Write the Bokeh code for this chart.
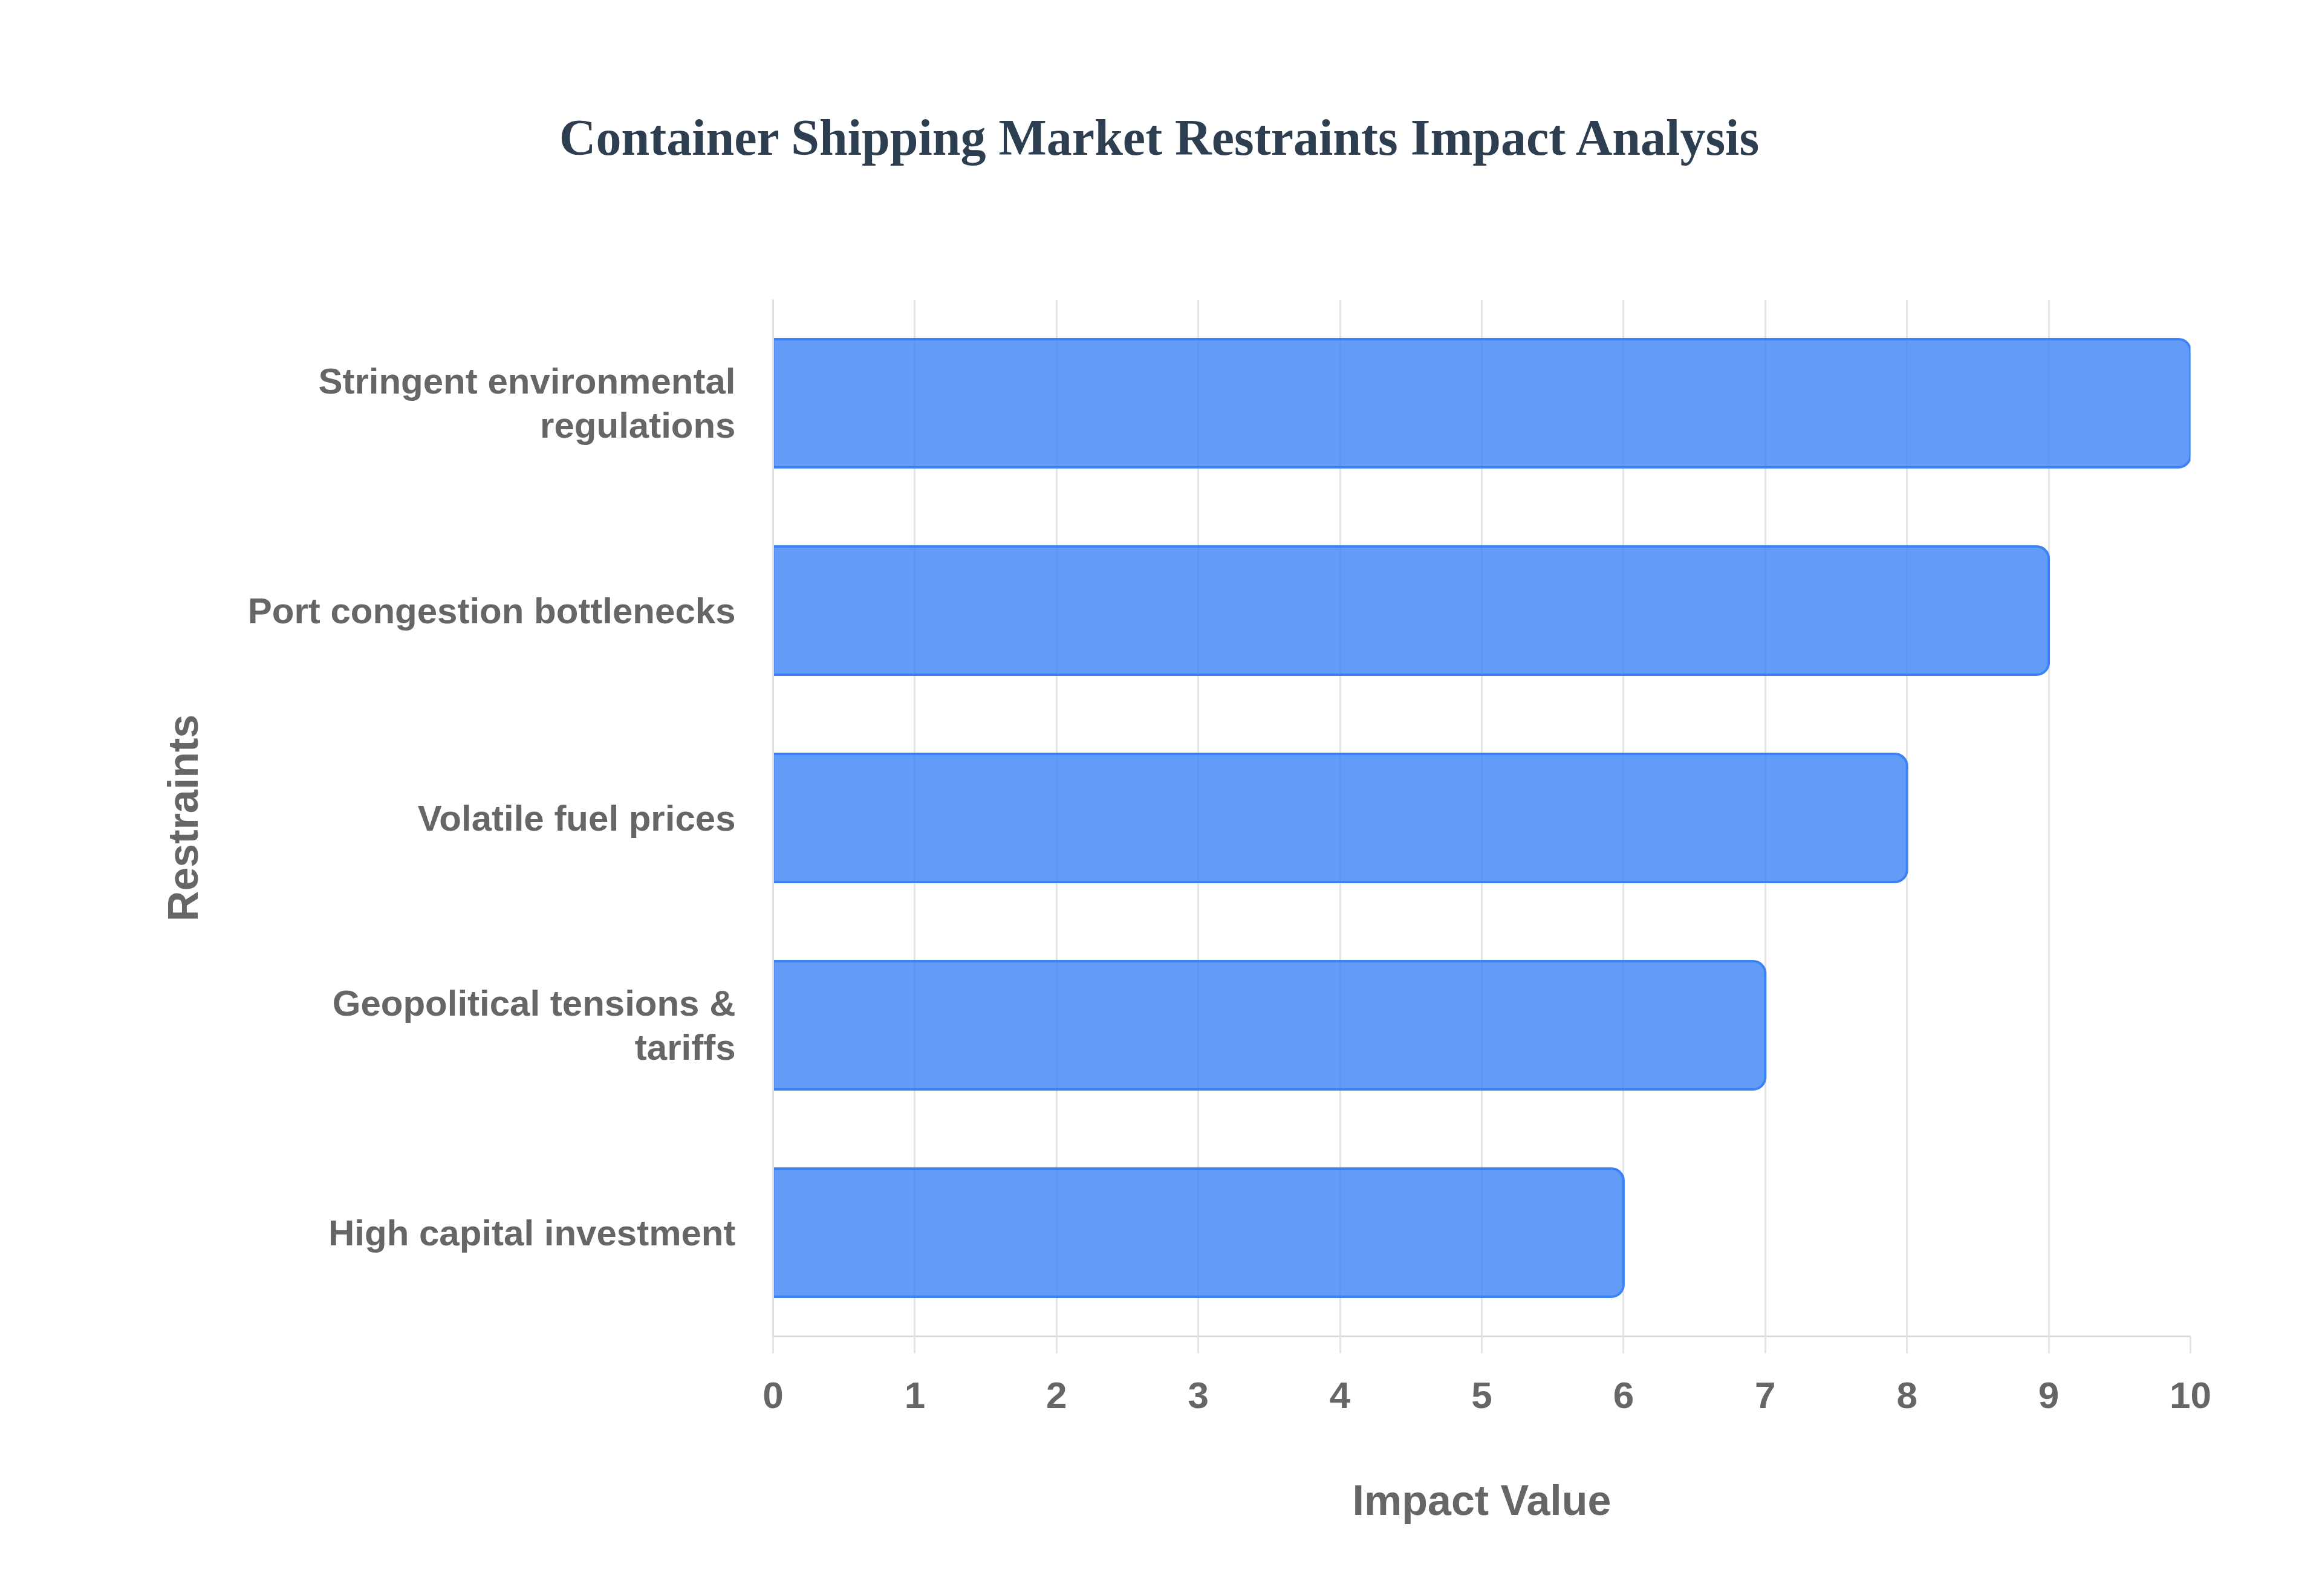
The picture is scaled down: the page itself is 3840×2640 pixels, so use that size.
import numpy as np
from bokeh.layouts import column
from bokeh.models import Range1d, FactorRange, FixedTicker, Div
from bokeh.plotting import figure
from bokeh.embed import file_html
from bokeh.resources import INLINE

# Restraints and their impact values (top to bottom as shown)
restraints = [
    "Stringent environmental\nregulations",
    "Port congestion bottlenecks",
    "Volatile fuel prices",
    "Geopolitical tensions &\ntariffs",
    "High capital investment",
]
impact = [10, 9, 8, 7, 6]
x_ticks = [0, 1, 2, 3, 4, 5, 6, 7, 8, 9, 10]
chart_title = "Container Shipping Market Restraints Impact Analysis"

label_grey = "#666666"
bar_blue = "#3b82f6"
grid_grey = "#e5e5e5"

W, H = 3824, 2624
title_h = 446

# Title centred on the whole page
header = Div(text=chart_title, width=W, height=title_h,
             styles={"text-align": "center", "font-family": "'Liberation Serif', serif",
                     "font-size": "84px", "font-weight": "bold", "color": "#2c3e50",
                     "line-height": f"{title_h}px", "white-space": "nowrap"})

p = figure(width=W, height=H - title_h,
           y_range=FactorRange(factors=list(reversed(restraints)), range_padding=0),
           x_range=Range1d(0, 10),
           output_backend="svg", toolbar_location=None,
           min_border_left=1278, min_border_right=202,
           min_border_top=39, min_border_bottom=424)

p.hbar(y=restraints, left=0, right=impact, height=0.618,
       fill_color=bar_blue, fill_alpha=0.8,
       line_color=bar_blue, line_width=4,
       border_radius=(0, 20, 20, 0))

p.outline_line_color = None
p.background_fill_color = "white"

# Grid: vertical lines only
p.ygrid.grid_line_color = None
p.xgrid.grid_line_color = grid_grey
p.xgrid.grid_line_width = 3

# X axis
xa = p.xaxis[0]
xa.ticker = FixedTicker(ticks=x_ticks)
xa.minor_tick_line_color = None
xa.major_tick_in = 0
xa.major_tick_out = 28
xa.major_tick_line_color = grid_grey
xa.major_tick_line_width = 3
xa.axis_line_color = "#dddddd"
xa.axis_line_width = 3
xa.major_label_text_font = "Liberation Sans"
xa.major_label_text_font_size = "62px"
xa.major_label_text_font_style = "bold"
xa.major_label_text_color = label_grey
xa.major_label_standoff = 48
xa.axis_label = "Impact Value"
xa.axis_label_text_font = "Liberation Sans"
xa.axis_label_text_font_size = "70px"
xa.axis_label_text_font_style = "bold"
xa.axis_label_text_color = label_grey
xa.axis_label_standoff = 111

# Y axis
ya = p.yaxis[0]
ya.major_tick_in = 0
ya.major_tick_out = 0
ya.axis_line_color = "#dddddd"
ya.axis_line_width = 3
ya.major_label_text_font = "Liberation Sans"
ya.major_label_text_font_size = "60px"
ya.major_label_text_font_style = "bold"
ya.major_label_text_color = label_grey
ya.major_label_text_line_height = 1.1
ya.major_label_standoff = 62
ya.axis_label = "Restraints"
ya.axis_label_text_font = "Liberation Sans"
ya.axis_label_text_font_size = "70px"
ya.axis_label_text_font_style = "bold"
ya.axis_label_text_color = label_grey
ya.axis_label_standoff = 65

layout = column(header, p, spacing=0)
open("out.html", "w").write(file_html(layout, INLINE))
